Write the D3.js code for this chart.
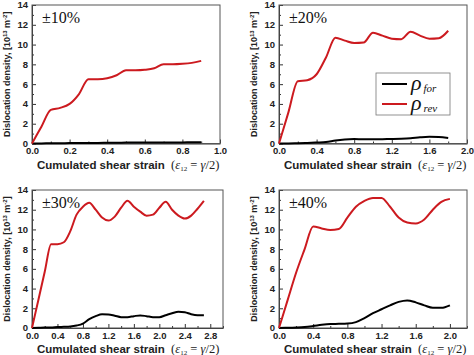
<!DOCTYPE html>
<html><head><meta charset="utf-8">
<script src="https://cdn.jsdelivr.net/npm/d3@7"></script>
<style>body{margin:0;background:#fff}svg{display:block}</style>
</head><body>
<script>
// ---- data ----
const p1x = [0,0.05,0.1,0.15,0.2,0.25,0.3,0.35,0.4,0.45,0.5,0.55,0.6,0.65,0.7,0.75,0.8,0.85,0.9];
const p1rev = [0,1.7,3.4,3.6,4.0,5.0,6.5,6.5,6.6,6.9,7.4,7.4,7.45,7.6,8.0,8.0,8.05,8.15,8.35];
const p1for = [0,0.01,0.02,0.03,0.04,0.05,0.06,0.06,0.07,0.08,0.09,0.1,0.1,0.1,0.11,0.11,0.11,0.12,0.12];

const p2x = [0,0.1,0.2,0.3,0.4,0.5,0.6,0.7,0.8,0.9,1.0,1.1,1.2,1.3,1.4,1.5,1.6,1.7,1.8];
const p2rev = [0,3.15,6.3,6.4,7.0,8.7,10.7,10.4,10.15,10.2,11.2,10.9,10.6,10.55,11.3,10.9,10.6,10.65,11.4];
const p2for = [0,0.01,0.03,0.06,0.1,0.15,0.3,0.4,0.45,0.42,0.42,0.44,0.45,0.47,0.52,0.62,0.68,0.65,0.55];

const p3x = [0,0.1,0.2,0.3,0.4,0.5,0.6,0.7,0.8,0.9,1.0,1.1,1.2,1.3,1.4,1.5,1.6,1.7,1.8,1.9,2.0,2.1,2.2,2.3,2.4,2.5,2.6,2.7];
const p3rev = [0,2.85,5.7,8.5,8.5,8.7,9.8,11.5,12.3,12.7,12.0,11.2,10.9,11.3,12.2,12.9,12.3,11.8,11.4,11.5,12.2,12.8,12.0,11.4,11.1,11.4,12.1,12.9];
const p3for = [0,0.02,0.04,0.05,0.1,0.12,0.15,0.25,0.45,0.9,1.2,1.4,1.38,1.25,1.1,1.1,1.2,1.28,1.2,1.1,1.1,1.3,1.5,1.65,1.6,1.4,1.3,1.3];

const p4x = [0,0.1,0.2,0.3,0.4,0.5,0.6,0.7,0.8,0.9,1.0,1.1,1.2,1.3,1.4,1.5,1.6,1.7,1.8,1.9,2.0];
const p4rev = [0,2.8,5.6,8.0,10.3,10.1,9.95,10.05,11.2,12.3,12.9,13.2,13.2,12.3,11.2,10.7,10.6,11.0,12.0,12.8,13.1];
const p4for = [0,0.02,0.05,0.1,0.2,0.32,0.4,0.42,0.45,0.6,1.0,1.5,1.9,2.3,2.65,2.8,2.6,2.3,2.05,2.05,2.3];

const yTicks = [0,2,4,6,8,10,12,14];
const panelLabels = ["\u00B110%","\u00B120%","\u00B130%","\u00B140%"];

const panels = [
  {x:p1x, rev:p1rev, fr:p1for, dom:[0,1.0], ticks:[0,0.2,0.4,0.6,0.8,1.0], minor:0.1, L:32, R:220, T:5, B:143.5, xlOff:25, label:panelLabels[0], legend:false},
  {x:p2x, rev:p2rev, fr:p2for, dom:[0,2.0], ticks:[0,0.4,0.8,1.2,1.6,2.0], minor:0.2, L:279, R:467, T:5, B:143.5, xlOff:25, label:panelLabels[1], legend:true},
  {x:p3x, rev:p3rev, fr:p3for, dom:[0,3.0], ticks:[0,0.4,0.8,1.2,1.6,2.0,2.4,2.8], minor:0.2, L:32, R:223, T:190, B:328, xlOff:24.5, label:panelLabels[2], legend:false},
  {x:p4x, rev:p4rev, fr:p4for, dom:[0,2.2], ticks:[0,0.4,0.8,1.2,1.6,2.0], minor:0.2, L:279, R:467, T:190, B:328, xlOff:24.5, label:panelLabels[3], legend:false}
];

const svg = d3.select("body").append("svg").attr("width",474).attr("height",355);
const RED = "#cc1a1f";
const SANS = "Liberation Sans, Arial, sans-serif";
const SERIF = "Liberation Serif, Times New Roman, serif";

panels.forEach(p => {
  const x = d3.scaleLinear().domain(p.dom).range([p.L,p.R]);
  const y = d3.scaleLinear().domain([0,14]).range([p.B,p.T]);
  const g = svg.append("g");

  const minorX = d3.range(p.dom[0], p.dom[1]+1e-9, p.minor).filter(v => !p.ticks.some(t=>Math.abs(t-v)<1e-6));
  const minorY = d3.range(1,14,2);

  const ax = d3.axisBottom(x).tickValues(p.ticks).tickFormat(d3.format(".1f")).tickSizeInner(-4).tickSizeOuter(0).tickPadding(4);
  g.append("g").attr("class","xa").attr("transform",`translate(0,${p.B})`).call(ax);
  g.append("g").attr("transform",`translate(0,${p.B})`)
    .call(d3.axisBottom(x).tickValues(minorX).tickFormat("").tickSizeInner(-2).tickSizeOuter(0))
    .select(".domain").remove();

  const ay = d3.axisLeft(y).tickValues(yTicks).tickFormat(d3.format("d")).tickSizeInner(-4).tickSizeOuter(0).tickPadding(4);
  g.append("g").attr("class","ya").attr("transform",`translate(${p.L},0)`).call(ay);
  g.append("g").attr("transform",`translate(${p.L},0)`)
    .call(d3.axisLeft(y).tickValues(minorY).tickFormat("").tickSizeInner(-2).tickSizeOuter(0))
    .select(".domain").remove();

  g.selectAll(".tick text").attr("font-family",SANS).attr("font-weight","bold").attr("font-size","9.5px").attr("fill","#222");
  g.selectAll(".ya .tick text").attr("dy","0.3em");
  g.selectAll(".tick line").attr("stroke","#333");
  g.selectAll(".domain").attr("stroke","#333");

  g.append("rect").attr("x",p.L).attr("y",p.T).attr("width",p.R-p.L).attr("height",p.B-p.T)
    .attr("fill","none").attr("stroke","#555").attr("stroke-width",1);

  const line = d3.line().x(d=>x(d[0])).y(d=>y(d[1])).curve(d3.curveMonotoneX);
  g.append("path").datum(p.x.map((v,i)=>[v,p.fr[i]])).attr("d",line)
    .attr("fill","none").attr("stroke","#000").attr("stroke-width",2);
  g.append("path").datum(p.x.map((v,i)=>[v,p.rev[i]])).attr("d",line)
    .attr("fill","none").attr("stroke",RED).attr("stroke-width",2);

  g.append("text").attr("x",p.L+10).attr("y",p.T+18).text(p.label)
    .attr("font-family",SERIF).attr("font-size","16px").attr("fill","#111");

  const cy = (p.T+p.B)/2;
  const yl = g.append("text").attr("transform",`translate(${p.L-22},${cy}) rotate(-90)`)
    .attr("text-anchor","middle").attr("font-family",SANS)
    .attr("font-weight","bold").attr("font-size","9px").attr("fill","#222");
  yl.append("tspan").text("Dislocation density, [10");
  yl.append("tspan").text("13").attr("font-size","6px").attr("dy","-3");
  yl.append("tspan").text(" m").attr("dy","3");
  yl.append("tspan").text("-2").attr("font-size","6px").attr("dy","-3");
  yl.append("tspan").text("]").attr("dy","3");

  const xl = g.append("text").attr("x",p.L+5).attr("y",p.B+p.xlOff).attr("fill","#222");
  xl.append("tspan").text("Cumulated shear strain").attr("font-family",SANS)
    .attr("font-weight","bold").attr("font-size","11.5px");
  xl.append("tspan").text("\u00A0\u00A0(").attr("font-family",SERIF).attr("font-size","12.5px");
  xl.append("tspan").text("\u03B5").attr("font-family",SERIF).attr("font-style","italic").attr("font-size","12.5px");
  xl.append("tspan").text("12").attr("font-family",SERIF).attr("font-size","7px").attr("dy","2");
  xl.append("tspan").text("\u00A0=\u00A0").attr("font-family",SERIF).attr("font-size","12.5px").attr("dy","-2");
  xl.append("tspan").text("\u03B3").attr("font-family",SERIF).attr("font-style","italic").attr("font-size","12.5px");
  xl.append("tspan").text("/2)").attr("font-family",SERIF).attr("font-size","12.5px");

  if (p.legend) {
    const lx = 376, ly = 73;
    g.append("rect").attr("x",lx).attr("y",ly).attr("width",74).attr("height",42)
      .attr("fill","#fff").attr("stroke","#777").attr("stroke-width",0.8);
    const items = [["for","#000"],["rev",RED]];
    items.forEach((it,i) => {
      const yy = ly + 11 + i*20;
      g.append("line").attr("x1",lx+6).attr("x2",lx+31).attr("y1",yy).attr("y2",yy)
        .attr("stroke",it[1]).attr("stroke-width",2);
      const t = g.append("text").attr("x",lx+35).attr("y",yy+6).attr("font-family",SERIF).attr("fill","#111");
      t.append("tspan").text("\u03C1").attr("font-style","italic").attr("font-size","22px");
      t.append("tspan").text(it[0]).attr("font-style","italic").attr("font-size","11px").attr("dy","2").attr("dx","2");
    });
  }
});
</script>
</body></html>
